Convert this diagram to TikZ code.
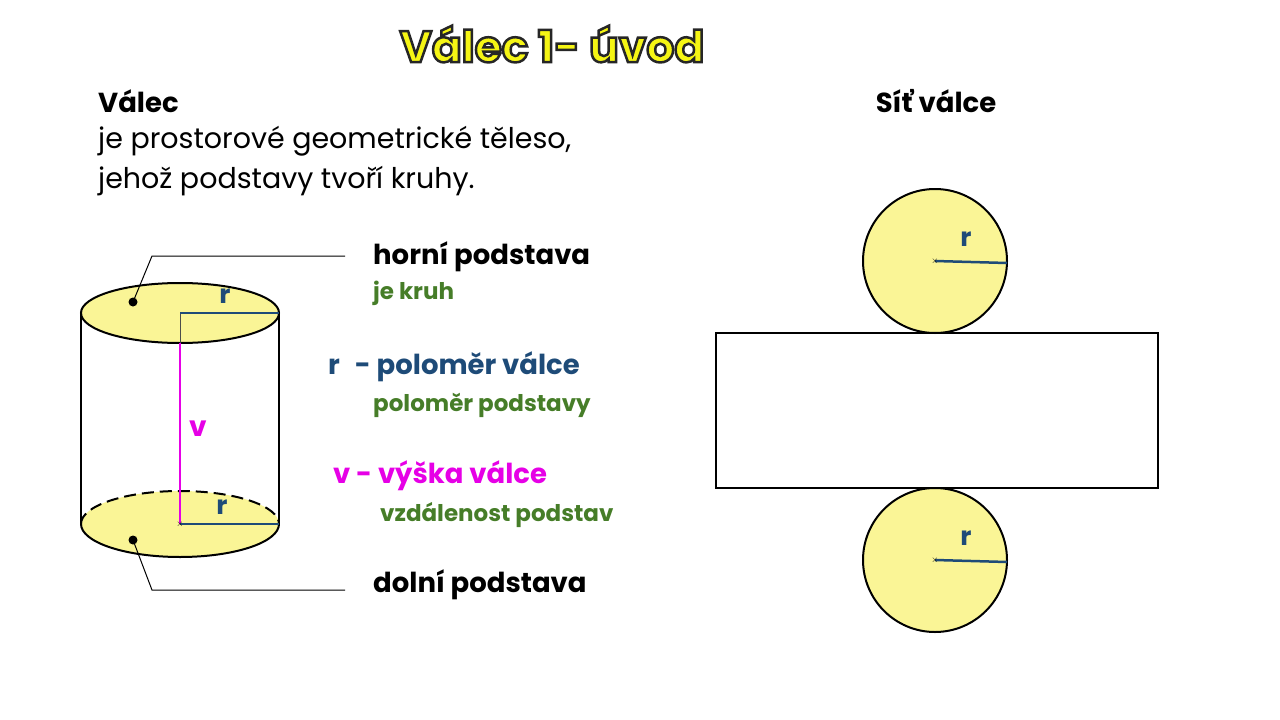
\documentclass[tikz,border=0pt]{standalone}
\usepackage{fontspec}
\setmainfont{Poppins}
\definecolor{fillY}{RGB}{250,245,150}
\definecolor{rblue}{RGB}{30,75,120}
\definecolor{grn}{RGB}{70,125,40}
\definecolor{mag}{RGB}{230,0,230}
\definecolor{ttl}{RGB}{245,245,20}
\begin{document}
\begin{tikzpicture}[x=1pt,y=-1pt,
  bt/.style={font=\fontsize{27.5}{30}\selectfont\bfseries,anchor=west,inner sep=0},
  gt/.style={font=\fontsize{23}{26}\selectfont\bfseries,text=grn,anchor=west,inner sep=0},
  rl/.style={font=\fontsize{26}{26}\selectfont\bfseries,text=rblue,inner sep=0},
  line/.style={line width=2pt}]
\useasboundingbox (0,0) rectangle (1280,720);
% left text
\node[bt] (valec) at (98,101) {Válec};
\node[font=\fontsize{28.5}{30}\selectfont,anchor=west,inner sep=0] (l1) at (98,141) {je prostorové geometrické těleso,};
\node[font=\fontsize{28.5}{30}\selectfont,anchor=west,inner sep=0] (l2) at (98,181) {jehož podstavy tvoří kruhy.};
% cylinder
\fill[fillY] (180,524) ellipse [x radius=99,y radius=33];
\draw[line] (81,524) arc[start angle=180,end angle=0,x radius=99,y radius=33];
\draw[line,dashed,dash pattern=on 12pt off 6pt] (81,524) arc[start angle=180,end angle=360,x radius=99,y radius=33];
\draw[line] (81,313) -- (81,524) (279,313) -- (279,524);
\filldraw[fill=fillY,line] (180,313) ellipse [x radius=99,y radius=30];
\coordinate (tc) at (180,313);
\coordinate (bc) at (180,524);
\coordinate (tr) at (279,313);
\coordinate (br) at (279,524);
\draw[line width=1pt,black!70] (tc) -- (180,343);
\draw[mag,line width=2pt] (180,343) -- (bc);
\draw[rblue,line width=2.5pt] (tc) -- (tr);
\draw[rblue,line width=2.5pt] (bc) -- (br);
\node[font=\small] at (bc) {$\times$};
\node[rl] (r1) at (225,296) {r};
\node[rl] (r2) at (222,507) {r};
\node[font=\fontsize{28}{28}\selectfont\bfseries,text=mag,inner sep=0] (v1) at (198,429) {v};
\fill (133,302) circle (4.5);
\fill (133,540) circle (4.5);
\coordinate (d1) at (133,302);
\coordinate (d2) at (133,540);
\coordinate (k1) at (152,256);
\coordinate (k2) at (152,590);
\coordinate (e1) at (345,256);
\coordinate (e2) at (345,590);
\draw[line width=1pt] (d1) -- (k1) -- (e1);
\draw[line width=1pt] (d2) -- (k2) -- (e2);
% labels
\node[bt] (hp) at (373,257) {horní podstava};
\node[gt] (jk) at (373,293) {je kruh};
\node[bt,text=rblue] (rp) at (328,367) {r\,\, - poloměr válce};
\node[gt] (pp) at (373,405) {poloměr podstavy};
\node[bt,text=mag] (vv) at (333,476) {v - výška válce};
\node[gt] (vp) at (380,515) {vzdálenost podstav};
\node[bt] (dp) at (373,585) {dolní podstava};
% net
\node[font=\fontsize{27.5}{30}\selectfont\bfseries,inner sep=0] (sit) at (936,101) {Síť válce};
\filldraw[fill=fillY,line] (935,261) circle (72);
\filldraw[fill=fillY,line] (935,560) circle (72);
\node[draw,line width=2pt,minimum width=442,minimum height=155,inner sep=0] (rect) at (937,410.5) {};
\coordinate (c1) at (935,261);
\coordinate (c2) at (935,560);
\coordinate (c1r) at (1007,263);
\coordinate (c2r) at (1007,562);
\draw[rblue,line width=2.5pt] (c1) -- (c1r);
\draw[rblue,line width=2.5pt] (c2) -- (c2r);
\node[font=\small,inner sep=0] at (c1) {$\times$};
\node[font=\small,inner sep=0] at (c2) {$\times$};
\node[rl] (r3) at (966,239) {r};
\node[rl] (r4) at (966,538) {r};
% title
\node[font=\fontsize{44}{46}\selectfont\bfseries,text=ttl] (title) at (552,44) {\special{pdf:code 0.15 G 2.5 w 2 Tr}Válec 1- úvod\special{pdf:code 0 Tr}};
\end{tikzpicture}
\end{document}
